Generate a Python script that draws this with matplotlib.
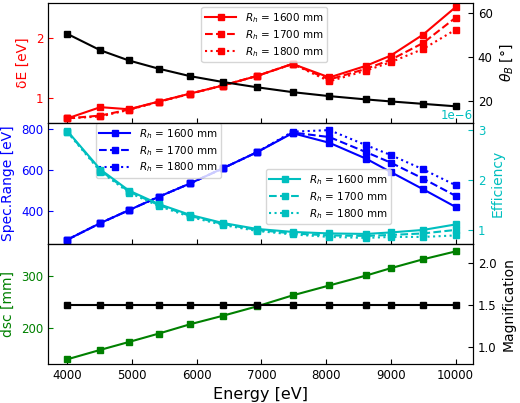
import matplotlib
matplotlib.use("Agg")
import matplotlib.pyplot as plt

energy = [4000, 4510, 4950, 5410, 5900, 6400, 6930, 7480, 8050, 8620, 9000, 9500, 10000]
radii = [1600, 1700, 1800]

dE_1600 = [0.653, 0.84, 0.805, 0.933, 1.067, 1.20, 1.36, 1.56, 1.335, 1.53, 1.70, 2.05, 2.505]
dE_1700 = [0.653, 0.70, 0.800, 0.930, 1.065, 1.20, 1.36, 1.56, 1.300, 1.48, 1.63, 1.91, 2.33]
dE_1800 = [0.653, 0.685, 0.795, 0.928, 1.062, 1.20, 1.36, 1.56, 1.270, 1.45, 1.59, 1.81, 2.13]
theta_B = [50.5, 43.1, 38.5, 34.8, 31.4, 28.8, 26.4, 24.2, 22.4, 20.9, 20.0, 18.9, 17.8]

range_1600 = [259, 340, 403, 468, 534, 607, 686, 779, 732, 654, 589, 505, 419]
range_1700 = [259, 340, 403, 468, 534, 607, 686, 782, 760, 686, 635, 557, 473]
range_1800 = [259, 340, 403, 468, 534, 607, 686, 786, 794, 720, 672, 602, 525]

eff_1600 = [2.98, 2.21, 1.79, 1.52, 1.30, 1.14, 1.02, 0.96, 0.93, 0.92, 0.95, 1.00, 1.11]
eff_1700 = [2.97, 2.19, 1.77, 1.50, 1.28, 1.12, 1.00, 0.93, 0.89, 0.88, 0.90, 0.93, 1.00]
eff_1800 = [2.96, 2.17, 1.75, 1.48, 1.26, 1.10, 0.98, 0.91, 0.86, 0.84, 0.86, 0.86, 0.89]

dsc = [141, 159, 174, 190, 208, 224, 242, 263, 282, 301, 315, 332, 347]
magnification = [1.5] * 13

styles = ['-', '--', ':']
TICK = 8.5
LAB = 10
LEG = 7.5
MS = 4.5
LW = 1.5
BLUE = 'b'
CYAN = 'c'
LEGKW = dict(borderaxespad=0, fontsize=LEG, labelspacing=0.3, handlelength=3.0, borderpad=0.35)

fig, axes = plt.subplots(3, 1, sharex=True, figsize=(5.2, 4.03), dpi=100)
fig.subplots_adjust(left=0.0923, right=0.9096, top=0.9933, bottom=0.0968, hspace=0)
ax1, ax2, ax3 = axes

def style(ax, color):
    ax.tick_params(axis='y', colors=color, direction='in', labelsize=TICK)
    ax.tick_params(axis='x', direction='in', labelsize=TICK)

# Top panel
for vals, ls, r in zip([dE_1600, dE_1700, dE_1800], styles, radii):
    ax1.plot(energy, vals, color='r', ls=ls, lw=LW, marker='s', ms=MS, label=f'$R_h$ = {r} mm')
ax1.set_ylim(0.574, 2.58)
ax1.set_yticks([1, 2])
ax1.set_ylabel('δE [eV]', color='r', fontsize=LAB)
style(ax1, 'r')
ax1.legend(loc='upper left', bbox_to_anchor=(0.361, 0.961), **LEGKW)
ax1t = ax1.twinx()
ax1t.plot(energy, theta_B, color='k', lw=LW, marker='s', ms=MS)
ax1t.set_ylim(10.2, 64.6)
ax1t.set_yticks([20, 40, 60])
ax1t.set_ylabel(r'$\theta_B$ [°]', color='k', fontsize=LAB)
style(ax1t, 'k')

# Middle panel
for vals, ls, r in zip([range_1600, range_1700, range_1800], styles, radii):
    ax2.plot(energy, vals, color=BLUE, ls=ls, lw=LW, marker='s', ms=MS, label=f'$R_h$ = {r} mm')
ax2.set_ylim(240, 828)
ax2.set_yticks([400, 600, 800])
ax2.set_ylabel('Spec.Range [eV]', color=BLUE, fontsize=LAB)
style(ax2, BLUE)
ax2.legend(loc='upper left', bbox_to_anchor=(0.112, 1.0), **LEGKW)
ax2t = ax2.twinx()
for vals, ls, r in zip([eff_1600, eff_1700, eff_1800], styles, radii):
    ax2t.plot(energy, [v * 1e-6 for v in vals], color=CYAN, ls=ls, lw=LW, marker='s', ms=MS,
              label=f'$R_h$ = {r} mm')
ax2t.set_ylim(0.727e-6, 3.14e-6)
ax2t.set_yticks([1e-6, 2e-6, 3e-6])
ax2t.set_ylabel('Efficiency', color=CYAN, fontsize=LAB)
style(ax2t, CYAN)
ax2t.yaxis.get_offset_text().set_color(CYAN)
ax2t.yaxis.get_offset_text().set_fontsize(TICK)
ax2t.legend(loc='upper left', bbox_to_anchor=(0.512, 0.617), **LEGKW)

# Bottom panel
ax3.plot(energy, dsc, color='g', lw=LW, marker='s', ms=MS)
ax3.set_ylim(132, 362)
ax3.set_yticks([200, 300])
ax3.set_ylabel('dsc [mm]', color='g', fontsize=LAB)
style(ax3, 'g')
ax3t = ax3.twinx()
ax3t.plot(energy, magnification, color='k', lw=LW, marker='s', ms=MS)
ax3t.set_ylim(0.80, 2.227)
ax3t.set_yticks([1.0, 1.5, 2.0])
ax3t.set_ylabel('Magnification', color='k', fontsize=LAB)
style(ax3t, 'k')

ax3.set_xlim(3700, 10270)
ax3.set_xticks([4000, 5000, 6000, 7000, 8000, 9000, 10000])
ax3.set_xlabel('Energy [eV]', fontsize=11.5)

fig.savefig('out.png', dpi=100)
